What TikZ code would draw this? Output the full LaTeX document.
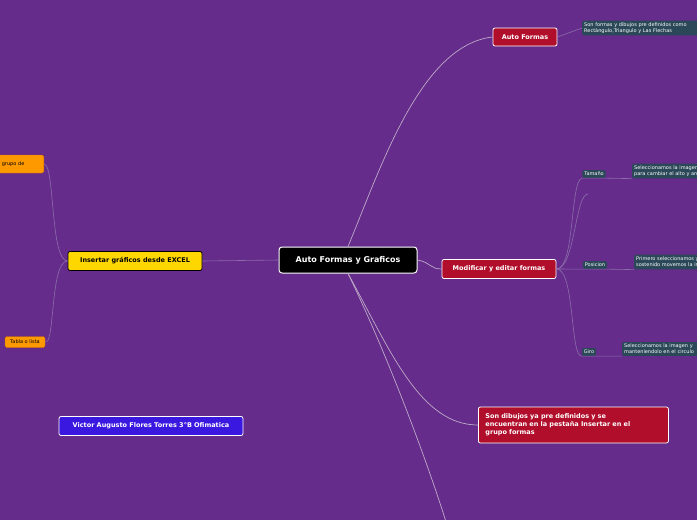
\documentclass[tikz,border=0pt]{standalone}
\usepackage{fontspec}
\setmainfont{DejaVu Sans}
\definecolor{bg}{RGB}{101,44,140}
\definecolor{rd}{RGB}{176,14,42}
\definecolor{tl}{RGB}{42,72,88}
\definecolor{or}{RGB}{255,153,0}
\definecolor{ordk}{RGB}{200,100,0}
\definecolor{cl}{RGB}{190,170,200}
\definecolor{cl2}{RGB}{140,110,170}
\definecolor{yl}{RGB}{255,215,0}
\definecolor{bl}{RGB}{58,24,224}
\begin{document}
\begin{tikzpicture}[x=1pt,y=-1pt,
  red/.style={fill=rd,draw=white,line width=0.8pt,rounded corners=2pt,text=white,font=\bfseries\fontsize{6.5}{8}\selectfont,inner sep=0pt},
  teal/.style={fill=tl,rounded corners=1.5pt,text=white,font=\fontsize{5}{6}\selectfont,inner sep=2pt,align=left},
  orng/.style={fill=or,draw=ordk,rounded corners=1.5pt,text=black,font=\fontsize{5}{6}\selectfont,inner sep=0pt},
  conn/.style={draw=cl,line width=0.7pt},
  conn2/.style={draw=cl2,line width=0.6pt}]
\useasboundingbox (0,0) rectangle (697,520);
\fill[bg] (0,0) rectangle (697,520);
\clip (0,0) rectangle (697,520);
\node[fill=black,draw=white,line width=1pt,rounded corners=3pt,text=white,font=\bfseries\fontsize{8}{10}\selectfont,minimum width=138pt,minimum height=26pt] (c) at (348,260) {Auto Formas y Graficos};
\node[red,minimum width=64pt,minimum height=18pt] (af) at (525,37) {Auto Formas};
\node[teal,anchor=west,text width=130pt] (d1) at (582,28) {Son formas y dibujos pre definidos como\\Rectángulo,Triangulo y Las Flechas};
\node[red,minimum width=114pt,minimum height=19pt] (mf) at (499,269) {Modificar y editar formas};
\node[teal] (t) at (594,174) {Tamaño};
\node[teal,anchor=west,text width=120pt] (td) at (632,171) {Seleccionamos la imagen\\para cambiar el alto y ancho};
\coordinate (e) at (588,194);
\node[teal] (p) at (595,265) {Posicion};
\node[teal,anchor=west,text width=120pt] (pd) at (634,262) {Primero seleccionamos y\\sostenido movemos la imagen};
\node[teal] (g) at (589,352) {Giro};
\node[teal,anchor=west,text width=120pt] (gd) at (622,349) {Seleccionamos la imagen y\\manteniendolo en el circulo};
\node[red,minimum width=190pt,minimum height=36pt,text width=176pt,align=left,anchor=west] (sd) at (478,425) {Son dibujos ya pre definidos y se\\encuentran en la pestaña Insertar en el\\grupo formas};
\node[fill=yl,draw=black,line width=0.8pt,rounded corners=2pt,font=\bfseries\fontsize{6.5}{8}\selectfont,minimum width=134pt,minimum height=19pt,inner sep=0pt] (ig) at (135,261) {Insertar gráficos desde EXCEL};
\node[orng,anchor=east,minimum width=60pt,minimum height=18pt,text width=56pt,align=left] (o1) at (44,164) {\hspace*{16pt}grupo de};
\node[orng,minimum width=40pt,minimum height=11pt] (o2) at (25,342) {Tabla o lista};
\node[fill=bl,draw=white,line width=0.8pt,rounded corners=2pt,text=white,font=\bfseries\fontsize{6.5}{8}\selectfont,minimum width=184pt,minimum height=19pt,inner sep=0pt] (v) at (151,426) {Victor Augusto Flores Torres 3°B Ofimatica};
\coordinate (bot) at (447,525);
\draw[conn] (c.north) .. controls (380,170) and (420,45) .. (af.west);
\draw[conn2] (af.east) -- (d1.west);
\draw[conn] (c.east) .. controls (430,262) and (430,269) .. (mf.west);
\draw[conn] (c.south) .. controls (390,350) and (420,425) .. (sd.west);
\draw[conn] (c.south) .. controls (390,360) and (430,470) .. (bot);
\draw[conn2] (c.west) -- (ig.east);
\draw[conn2] (ig.west) .. controls (50,261) and (55,164) .. (o1.east);
\draw[conn2] (ig.west) .. controls (50,261) and (55,346) .. (o2.east);
\draw[conn2] (mf.east) .. controls (575,269) and (570,180) .. (t.south west) -- (t.south east) -- (td.south west);
\draw[conn2] (mf.east) .. controls (575,269) and (575,194) .. (e);
\draw[conn2] (mf.east) -- (p.south west) -- (p.south east) -- (pd.south west);
\draw[conn2] (mf.east) .. controls (575,269) and (570,357) .. (g.south west) -- (g.south east) -- (gd.south west);
\end{tikzpicture}
\end{document}
